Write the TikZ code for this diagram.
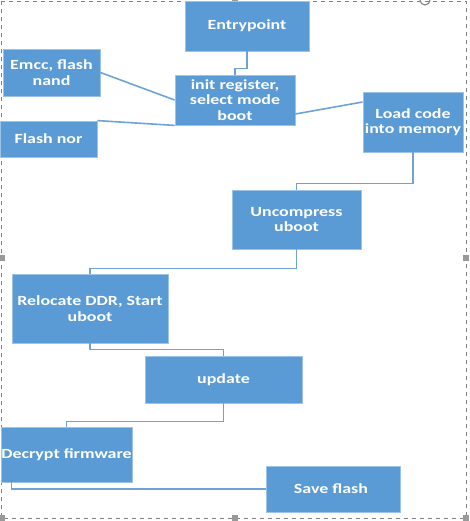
\documentclass[tikz,border=0pt]{standalone}
\usepackage{fontspec}
\setmainfont{Carlito}[FakeStretch=1.28]
\usepackage{tikz}
\definecolor{boxblue}{HTML}{5B9BD5}
\definecolor{edgeblue}{HTML}{9DC3E6}
\definecolor{wireblue}{HTML}{6FA3D8}
\tikzset{
    stepbox/.style={rectangle, fill=boxblue, draw=edgeblue, line width=0.6pt, inner sep=0pt,
        text=white, font=\fontsize{10.5}{11.5}\selectfont\bfseries, align=center}, % 方框样式
    wire/.style={draw=wireblue, line width=1.2pt}, % 连线样式
    handle/.style={fill=gray!80, draw=none} % 选择框的控制点
}
\begin{document}
\begin{tikzpicture}[x=0.75pt, y=-0.75pt]
            \useasboundingbox (0,0) rectangle (470,521);
            % 虚线选择框
            \draw[gray, dashed, line width=0.5pt] (1,1) rectangle (466,518);
            \foreach \hx/\hy in {235/2, 2/258, 466/258, 2/518, 235/518, 466/518} {
                \fill[handle] (\hx-3,\hy-3) rectangle (\hx+3,\hy+3);
            }
            \draw[gray, line width=0.8pt] (425,0) circle (5);

          \foreach \n/\x/\y/\w/\h/\labelText in {
              ep/247/26/124/50/{Entrypoint},
              em/51.5/72.5/97/47/{Emcc, flash\\nand},
              ir/235/100/120/50/{init register,\\select mode\\boot},
              fn/48.5/139/97/36/{Flash nor},
              lc/413/122/100/60/{Load code\\into memory},
              uc/296.5/219.5/129/59/{Uncompress\\uboot},
              rd/90/308.5/156/69/{Relocate DDR, Start\\uboot},
              up/223.5/379.5/157/47/{update},
              df/66.5/454.5/131/55/{Decrypt firmware},
              sf/333/489/134/46/{Save flash}
          } {
              \node[stepbox, minimum width=\w*0.75pt, minimum height=\h*0.75pt] (\n) at (\x, \y) {\labelText};
          }

          % 连线
          \draw[wire] (ep.south) -- ++(0,17) -| (ir.north);
          \draw[wire] (em.east) -- (ir.west);
          \draw[wire] (fn.north east) -- (ir.south west);
          \draw[wire] ([yshift=-10.5pt]ir.east) -- ([yshift=15pt]lc.west);
          \draw[wire] (lc.south) -- ++(0,31) -| (uc.north);
          \draw[wire] (uc.south) -- ++(0,19) -| (rd.north);
          \draw[wire] (rd.south) -- ++(0,6) -| (up.north);
          \draw[wire] (up.south) -- ++(0,18) -| (df.north);
          \draw[wire] ([xshift=8.25pt]df.south west) |- (sf.west);

        \end{tikzpicture}
\end{document}
